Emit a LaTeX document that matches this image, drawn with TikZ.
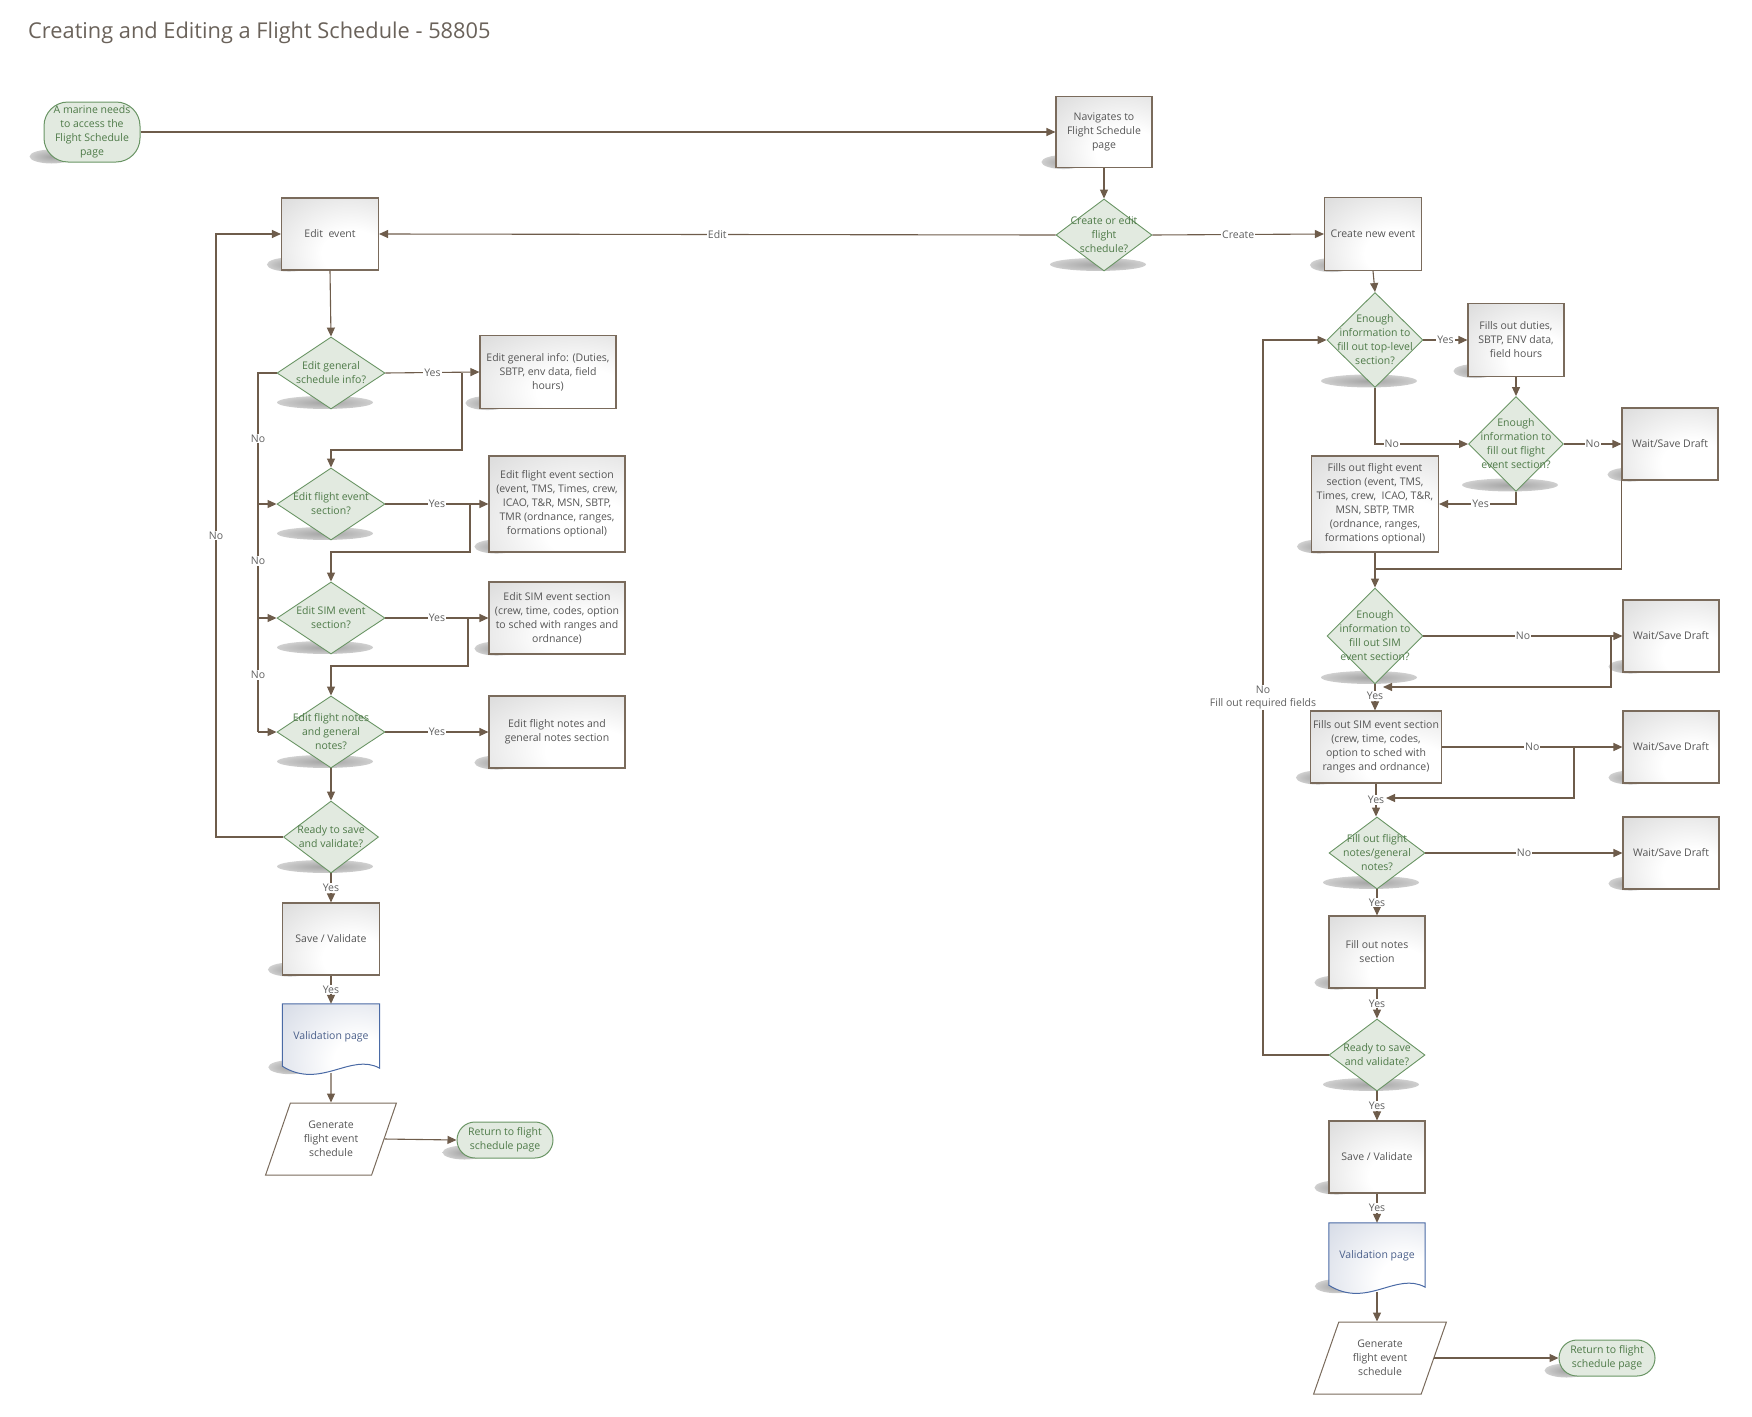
\documentclass[tikz,border=0pt]{standalone}
\usepackage{fontspec}
\setmainfont{Open Sans}
\usetikzlibrary{arrows.meta,shapes.geometric,backgrounds,calc}

\definecolor{conn}{HTML}{6E5C4B}
\definecolor{boxline}{HTML}{7A6B5C}
\definecolor{boxtext}{HTML}{555555}
\definecolor{decfill}{HTML}{E2EAE0}
\definecolor{decline}{HTML}{6A9565}
\definecolor{dectext}{HTML}{4E7A48}
\definecolor{docline}{HTML}{4A6AA5}
\definecolor{doctext}{HTML}{4A5F8A}
\definecolor{docfill}{HTML}{C7CEDD}
\definecolor{labtext}{HTML}{606060}
\definecolor{titletext}{HTML}{6A625A}

\pgfdeclareradialshading{boxsh}{\pgfpoint{14bp}{-16bp}}{color(0bp)=(white); color(16bp)=(white); color(45bp)=(black!13); color(80bp)=(black!18); color(100bp)=(black!18)}
\pgfdeclareradialshading{docsh}{\pgfpoint{18bp}{-10bp}}{color(0bp)=(white); color(14bp)=(white); color(45bp)=(docfill!70); color(80bp)=(docfill); color(100bp)=(docfill)}
\pgfdeclareradialshading{shad}{\pgfpoint{0bp}{0bp}}{color(0bp)=(black!36); color(18bp)=(black!24); color(50bp)=(white); color(100bp)=(white)}

\newcommand\rshad[1]{\shade[shading=shad] ($(#1.south west)+(8,-6)$) ellipse [x radius=22pt, y radius=7pt];}
\newcommand\dshad[1]{\shade[shading=shad] ($(#1.south)+(-6,-7)$) ellipse [x radius=48pt, y radius=6.5pt];}

\tikzset{
 base/.style={font=\fontsize{10.5}{14}\selectfont, align=center, inner sep=0pt},
 box/.style={base, draw=boxline, line width=1.1pt, shade, shading=boxsh, text=boxtext, minimum width=97pt, minimum height=72pt},
 dec/.style={base, diamond, draw=decline, line width=0.9pt, fill=decfill, minimum width=108pt, minimum height=72pt},
 dtext/.style={base, text=dectext},
 term/.style={base, draw=decline, fill=decfill, line width=1pt, rounded corners=18pt, text=dectext},
 docnode/.style={base, text=doctext, minimum width=97pt, minimum height=69pt},
 io/.style={base, trapezium, trapezium left angle=65, trapezium right angle=115, trapezium stretches=true, draw=boxline, line width=1pt, fill=white, text=boxtext, minimum width=132pt, minimum height=72pt},
 conn/.style={draw=conn, line width=1.1pt},
 arr/.style={conn, -{Triangle[length=9pt,width=8pt]}},
 lab/.style={font=\fontsize{10.5}{13}\selectfont, text=labtext, fill=white, inner sep=1pt, align=center},
}

\begin{document}
\begin{tikzpicture}[x=1pt,y=-1pt]
\useasboundingbox (0,0) rectangle (1752,1416);

\node[anchor=west, font=\fontsize{21.8}{26}\selectfont, text=titletext, inner sep=0pt] (title) at (28,33) {Creating and Editing a Flight Schedule - 58805};

% ---------- top ----------
\node[term, minimum width=96pt, minimum height=60pt, rounded corners=24pt] (start) at (92,132) {A marine needs\\to access the\\Flight Schedule\\page};
\node[box, minimum width=96pt, minimum height=71pt] (nav) at (1104,132) {Navigates to\\Flight Schedule\\page};
\node[dec, minimum width=96pt, minimum height=72pt, label={[dtext]center:{Create or edit\\flight\\schedule?}}] (dce) at (1104,235) {};
\node[box, minimum height=73pt] (cne) at (1373,234) {Create new event};
\node[box] (edit) at (330,234) {Edit\ \ event};

% ---------- left column ----------
\node[dec, label={[dtext]center:{Edit general\\schedule info?}}] (dgen) at (331,373) {};
\node[box, minimum width=136pt, minimum height=73pt] (bgen) at (548,372) {Edit general info: (Duties,\\SBTP, env data, field\\hours)};
\node[dec, label={[dtext]center:{Edit flight event\\section?}}] (dfl) at (331,504) {};
\node[box, minimum width=136pt, minimum height=96pt] (bfl) at (557,504) {Edit flight event section\\(event, TMS, Times, crew,\\ICAO, T\&R, MSN, SBTP,\\TMR (ordnance, ranges,\\formations optional)};
\node[dec, label={[dtext]center:{Edit SIM event\\section?}}] (dsim) at (331,618) {};
\node[box, minimum width=136pt] (bsim) at (557,618) {Edit SIM event section\\(crew, time, codes, option\\to sched with ranges and\\ordnance)};
\node[dec, label={[dtext]center:{Edit flight notes\\and general\\notes?}}] (dnotes) at (331,732) {};
\node[box, minimum width=136pt] (bnotes) at (557,732) {Edit flight notes and\\general notes section};
\node[dec, minimum width=95pt, label={[dtext]center:{Ready to save\\and validate?}}] (dready) at (331,837) {};
\node[box] (save1) at (331,939) {Save / Validate};
\node[docnode] (v1) at (331,1038.5) {\raisebox{6pt}{Validation page}};
\node[io] (g1) at (331,1139) {Generate\\flight event\\schedule};
\node[term, minimum width=96pt, minimum height=36pt] (r1) at (505,1140) {Return to flight\\schedule page};

% ---------- right column ----------
\node[dec, minimum width=96pt, minimum height=95pt, label={[dtext]center:{Enough\\information to\\fill out top-level\\section?}}] (d1) at (1375,340) {};
\node[box, minimum width=96pt, minimum height=73pt] (bduty) at (1516,340) {Fills out duties,\\SBTP, ENV data,\\field hours};
\node[dec, minimum width=95pt, minimum height=95pt, label={[dtext]center:{Enough\\information to\\fill out flight\\event section?}}] (d2) at (1516,444) {};
\node[box, minimum width=96pt] (w1) at (1670,444) {Wait/Save Draft};
\node[box, minimum width=127pt, minimum height=96pt] (bfl2) at (1375,504) {Fills out flight event\\section (event, TMS,\\Times, crew,\ \ ICAO, T\&R,\\MSN, SBTP, TMR\\(ordnance, ranges,\\formations optional)};
\node[dec, minimum width=96pt, minimum height=96pt, label={[dtext]center:{Enough\\information to\\fill out SIM\\event section?}}] (d3) at (1375,636) {};
\node[box, minimum width=96pt] (w2) at (1671,636) {Wait/Save Draft};
\node[box, minimum width=131pt] (bsim2) at (1376,747) {Fills out SIM event section\\(crew, time, codes,\\option to sched with\\ranges and ordnance)};
\node[box, minimum width=96pt] (w3) at (1671,747) {Wait/Save Draft};
\node[dec, minimum width=96pt, label={[dtext]center:{Fill out flight\\notes/general\\notes?}}] (d4) at (1377,853) {};
\node[box, minimum width=96pt] (w4) at (1671,853) {Wait/Save Draft};
\node[box, minimum width=96pt] (bn2) at (1377,952) {Fill out notes\\section};
\node[dec, minimum width=96pt, label={[dtext]center:{Ready to save\\and validate?}}] (d5) at (1377,1055) {};
\node[box, minimum width=96pt] (save2) at (1377,1157) {Save / Validate};
\node[docnode, minimum width=96pt] (v2) at (1377,1257.5) {\raisebox{6pt}{Validation page}};
\node[io, minimum width=134pt] (g2) at (1380,1358) {Generate\\flight event\\schedule};
\node[term, minimum width=96pt, minimum height=36pt] (r2) at (1607,1358) {Return to flight\\schedule page};

% ---------- connectors: top ----------
\draw[arr] (start.east) -- (nav.west);
\draw[arr] (nav.south) -- (dce.north);
\draw[arr] (dce.west) -- node[lab]{Edit} (edit.east);
\draw[arr] (dce.east) -- node[lab]{Create} (cne.west);

% ---------- connectors: left ----------
\draw[arr] (edit.south) -- (dgen.north);
\draw[arr] (dgen.east) -- node[lab]{Yes} (bgen.west);
\coordinate (jg) at (462,373); \coordinate (kg) at (331,450);
\draw[arr] (jg) |- (kg) -- (dfl.north);
\draw[arr] (dfl.east) -- node[lab]{Yes} (bfl.west);
\coordinate (jf) at (470,504); \coordinate (kf) at (331,552);
\draw[arr] (jf) |- (kf) -- (dsim.north);
\draw[arr] (dsim.east) -- node[lab]{Yes} (bsim.west);
\coordinate (js) at (468,618); \coordinate (ks) at (331,666);
\draw[arr] (js) |- (ks) -- (dnotes.north);
\draw[arr] (dnotes.east) -- node[lab]{Yes} (bnotes.west);
\draw[arr] (dnotes.south) -- (dready.north);

\coordinate (ia) at (258,373); \coordinate (ib) at (258,504);
\coordinate (ic) at (258,618); \coordinate (id) at (258,732);
\draw[conn] (dgen.west) -- (ia) -- node[lab]{No} (ib) -- node[lab]{No} (ic) -- node[lab]{No} (id);
\draw[arr] (ib) -- (dfl.west);
\draw[arr] (ic) -- (dsim.west);
\draw[arr] (id) -- (dnotes.west);

\coordinate (oa) at (216,837); \coordinate (ob) at (216,234);
\draw[arr] (dready.west) -- (oa) -- node[lab]{No} (ob) -- (edit.west);
\draw[arr] (dready.south) -- node[lab]{Yes} (save1.north);
\draw[arr] (save1.south) -- node[lab]{Yes} (v1.north);
\draw[arr] (v1.south) -- (g1.north);
\draw[arr] (g1.right side) -- (r1.west);

% ---------- connectors: right ----------
\draw[arr] (cne.south) -- (d1.north);
\draw[arr] (d1.east) -- node[lab]{Yes} (bduty.west);
\draw[arr] (bduty.south) -- (d2.north);
\draw[arr] (d1.south) |- node[lab,pos=0.59]{No} (d2.west);
\draw[arr] (d2.east) -- node[lab]{No} (w1.west);
\draw[arr] (d2.south) |- node[lab,pos=0.73]{Yes} (bfl2.east);
\coordinate (j1) at (1375,569);
\draw[conn] (w1.south west) |- (j1);
\draw[arr] (bfl2.south) -- (d3.north);
\draw[arr] (d3.east) -- node[lab]{No} (w2.west);
\coordinate (j2) at (1611,636); \coordinate (k2) at (1383,687);
\draw[arr] (j2) |- (k2);
\draw[arr] (d3.south) -- node[lab,pos=0.45]{Yes} (d3.south |- bsim2.north);
\draw[arr] (bsim2.east) -- node[lab]{No} (w3.west);
\coordinate (j3) at (1574,747); \coordinate (k3) at (1386,798);
\draw[arr] (j3) |- (k3);
\draw[arr] (bsim2.south) -- node[lab]{Yes} (bsim2.south |- d4.north);
\draw[arr] (d4.east) -- node[lab]{No} (w4.west);
\draw[arr] (d4.south) -- node[lab]{Yes} (bn2.north);
\draw[arr] (bn2.south) -- node[lab]{Yes} (d5.north);
\draw[arr] (d5.south) -- node[lab]{Yes} (save2.north);
\draw[arr] (save2.south) -- node[lab]{Yes} (v2.north);
\draw[arr] (v2.south) -- (v2.south |- g2.north);
\draw[arr] (g2.right side) -- (r2.west);

\coordinate (ra) at (1263,1055); \coordinate (rb) at (1263,340);
\draw[arr] (d5.west) -- (ra) -- node[lab]{No\\Fill out required fields} (rb) -- (d1.west);

% ---------- background: shadows and document shapes ----------
\begin{pgfonlayer}{background}
\foreach \n in {start,nav,cne,edit,bgen,bfl,bsim,bnotes,save1,v1,r1,bduty,w1,w2,w3,w4,bfl2,bsim2,bn2,save2,v2,r2} {\rshad{\n}}
\foreach \n in {dce,dgen,dfl,dsim,dnotes,dready,d1,d2,d3,d4,d5} {\dshad{\n}}
\foreach \n in {v1,v2} {
  \shade[shading=docsh, draw=docline, line width=1pt]
    (\n.north west) -- (\n.north east) -- ($(\n.south east)+(0,-5)$)
    .. controls ($(\n.south east)+(-29,-21)$) and ($(\n.south west)+(38,17)$) .. ($(\n.south west)+(0,-7)$) -- cycle;
}
\end{pgfonlayer}
\end{tikzpicture}
\end{document}
